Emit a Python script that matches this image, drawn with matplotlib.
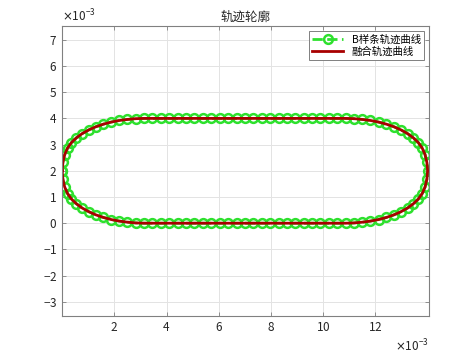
import numpy as np
import matplotlib
matplotlib.use('Agg')
import matplotlib.pyplot as plt
from matplotlib.ticker import ScalarFormatter

plt.rcParams['font.family'] = ['Noto Sans CJK SC', 'DejaVu Sans']

# puntos de la curva B (en unidades de 1e-3)
x_b = [0.00, 0.03, 0.10, 0.21, 0.36, 0.55, 0.77, 1.02, 1.29, 1.58, 1.88, 2.19, 2.50, 2.82,
       3.14, 3.46, 3.78, 4.11, 4.43, 4.75, 5.07, 5.39, 5.71, 6.04, 6.36, 6.68, 7.00,
       7.32, 7.64, 7.96, 8.29, 8.61, 8.93, 9.25, 9.57, 9.89, 10.22, 10.54,
       10.86, 11.18, 11.50, 11.81, 12.12, 12.42, 12.71, 12.98, 13.23, 13.45, 13.64, 13.79, 13.90, 13.97,
       14.00, 13.97, 13.90, 13.79, 13.64, 13.45, 13.23, 12.98, 12.71, 12.42, 12.12, 11.81, 11.50, 11.18,
       10.86, 10.54, 10.22, 9.89, 9.57, 9.25, 8.93, 8.61, 8.29, 7.96, 7.64, 7.32,
       7.00, 6.68, 6.36, 6.04, 5.71, 5.39, 5.07, 4.75, 4.43, 4.11, 3.78, 3.46,
       3.14, 2.82, 2.50, 2.19, 1.88, 1.58, 1.29, 1.02, 0.77, 0.55, 0.36, 0.21, 0.10, 0.03, 0.00]
y_b = [2.00, 2.32, 2.62, 2.87, 3.08, 3.26, 3.42, 3.56, 3.68, 3.78, 3.86, 3.92, 3.96, 3.99,
       4.00, 4.00, 4.00, 4.00, 4.00, 4.00, 4.00, 4.00, 4.00, 4.00, 4.00, 4.00, 4.00,
       4.00, 4.00, 4.00, 4.00, 4.00, 4.00, 4.00, 4.00, 4.00, 4.00, 4.00,
       4.00, 3.99, 3.96, 3.92, 3.86, 3.78, 3.68, 3.56, 3.42, 3.26, 3.08, 2.87, 2.62, 2.32,
       2.00, 1.68, 1.38, 1.13, 0.92, 0.74, 0.58, 0.44, 0.32, 0.22, 0.14, 0.08, 0.04, 0.01,
       0.00, 0.00, 0.00, 0.00, 0.00, 0.00, 0.00, 0.00, 0.00, 0.00, 0.00, 0.00,
       0.00, 0.00, 0.00, 0.00, 0.00, 0.00, 0.00, 0.00, 0.00, 0.00, 0.00, 0.00,
       0.00, 0.01, 0.04, 0.08, 0.14, 0.22, 0.32, 0.44, 0.58, 0.74, 0.92, 1.13, 1.38, 1.68, 2.00]

x_ticks = [2, 4, 6, 8, 10, 12]
y_ticks = [-3, -2, -1, 0, 1, 2, 3, 4, 5, 6, 7]
etiquetas = ['B样条轨迹曲线', '融合轨迹曲线']

x = np.array(x_b) * 1e-3
y = np.array(y_b) * 1e-3

fig = plt.figure(figsize=(4.74, 3.55), dpi=100)
ax = fig.add_axes([0.131, 0.110, 0.774, 0.817])

ax.plot(x, y, '--o', color='#2ee02e', lw=2, ms=6.3, mew=1.8,
        markerfacecolor='none', label=etiquetas[0])
ax.plot(x, y, '-', color='#a80000', lw=2, label=etiquetas[1])

ax.set_xlim(0, 14.05e-3)
ax.set_ylim(-3.54e-3, 7.53e-3)
ax.set_xticks(np.array(x_ticks) * 1e-3)
ax.set_yticks(np.array(y_ticks) * 1e-3)

# exponente fijo 10^-3 en ambos ejes
for eje in (ax.xaxis, ax.yaxis):
    fmt = ScalarFormatter(useMathText=True)
    fmt.set_powerlimits((-3, -3))
    eje.set_major_formatter(fmt)
    eje.get_offset_text().set_fontsize(8.5)
    eje.get_offset_text().set_color('#262626')

ax.grid(True, color='#e3e3e3', lw=0.7)
ax.tick_params(direction='in', top=True, right=True, length=3, width=0.6,
               labelsize=8.5, colors='#808080', labelcolor='#262626')
for s in ax.spines.values():
    s.set_color('#808080')
    s.set_linewidth(0.8)

ax.set_title('轨迹轮廓', fontsize=9, color='#262626', pad=4)
leg = ax.legend(loc='upper right', fontsize=7.5, fancybox=False, framealpha=1,
                edgecolor='#808080', handlelength=3, borderpad=0.3,
                labelspacing=0.2, borderaxespad=0.5)
leg.get_frame().set_linewidth(0.7)

fig.savefig('out.png', dpi=100)
